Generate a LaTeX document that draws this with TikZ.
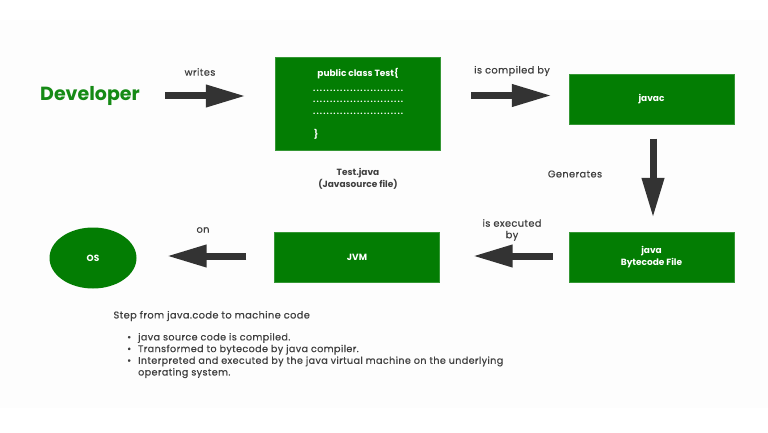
\documentclass[tikz,border=0pt]{standalone}
\usepackage{fontspec}
\setmainfont{Poppins}
\newfontfamily\notefont{Poppins}[FakeBold=0.5, LetterSpace=4]
\newfontfamily\dotfont{Poppins}[LetterSpace=14]
\usepackage{xcolor}
\usetikzlibrary{arrows.meta, shapes.geometric}
\definecolor{box-green}{HTML}{037D03}
\definecolor{dev-green}{HTML}{158A15}
\definecolor{arrow-grey}{HTML}{333333}
\definecolor{label-grey}{HTML}{3F3F3F}
\definecolor{panel-bg}{HTML}{FDFDFD}

\begin{document}
\begin{tikzpicture}[x=1pt, y=-1pt,
    every node/.style={font=\notefont\fontsize{9.8}{11.5}\selectfont, text=label-grey},
    greenbox/.style={draw=box-green!80!white, fill=box-green, minimum width=165pt, minimum height=50pt,
      text=white, font=\fontsize{9}{12}\selectfont\bfseries, align=center},
    bigarrow/.style={draw=arrow-grey, line width=7pt, -{Triangle[length=40pt, width=21pt]}}]
    \useasboundingbox (0,0) rectangle (768,433);
    \fill[panel-bg] (0,20) rectangle (768,408);

    % top row
    \node[font=\fontsize{19}{22}\selectfont\bfseries, text=dev-green] (dev) at (90,96) {Developer};
    \node[greenbox, minimum height=93pt] (src) at (357.5,103.5) {};
    \node[text=white, font=\fontsize{9}{10}\selectfont\bfseries] (cls) at (358,74) {public class Test\{};
    \foreach \y in {93,104,116} {
      \node[text=white, font=\dotfont\fontsize{8}{10}\selectfont\bfseries, anchor=west, inner sep=0pt]
        (dots\y) at (313,\y-2) {...........................};
    }
    \node[text=white, font=\fontsize{9}{10}\selectfont\bfseries] (close) at (316,134) {\}};
    \node[font=\fontsize{9}{12}\selectfont\bfseries, align=center] (srcname) at (358,179) {Test.java\\(Javasource file)};
    \node[greenbox] (javac) at (651.5,99.5) {javac};

    % bottom row
    \node[greenbox] (bytecode) at (651.5,257) {java\\Bytecode File};
    \node[greenbox] (jvm) at (357,257) {JVM};
    \node[ellipse, fill=box-green, minimum width=87pt, minimum height=61pt,
      text=white, font=\fontsize{9}{10}\selectfont\bfseries] (os) at (93,258) {OS};

    % connectors
    \draw[bigarrow] ([xshift=22pt]dev.east) -- ([xshift=-29pt]dev.east -| src.west);
    \draw[bigarrow, shorten <=31pt, shorten >=17pt] ([yshift=4pt]src.east |- javac.west) -- ([yshift=4pt]javac.west);
    \draw[bigarrow, shorten <=14pt, shorten >=14pt] ([xshift=1.5pt]javac.south) -- ([xshift=1.5pt]bytecode.north);
    \draw[bigarrow, shorten <=16pt, shorten >=33pt] ([yshift=1pt]bytecode.west) -- ([yshift=1pt]jvm.east);
    \draw[bigarrow, shorten <=28pt, shorten >=30pt] ([yshift=1pt]jvm.west) -- ([yshift=1pt]jvm.west -| os.east);

    \node (writes) at (200,72) {writes};
    \node (compiled) at (512,71) {is compiled by};
    \node (generates) at (575,174) {Generates};
    \node[align=center] (executed) at (512,230) {is executed\\by};
    \node (on) at (203,230) {on};

    % notes
    \node[anchor=west] (steps) at (110,316) {Step from java.code to machine code};
    \node[anchor=north west, inner sep=0pt, font=\notefont\fontsize{9.6}{11.7}\selectfont] (points) at (127,332) {%
      \begin{tabular}{@{}l@{\hspace{7pt}}l@{}}
        \textbullet & java source code is compiled.\\
        \textbullet & Transformed to bytecode by java compiler.\\
        \textbullet & Interpreted and executed by the java virtual machine on the underlying\\
                    & operating system.
      \end{tabular}};
  \end{tikzpicture}
\end{document}
